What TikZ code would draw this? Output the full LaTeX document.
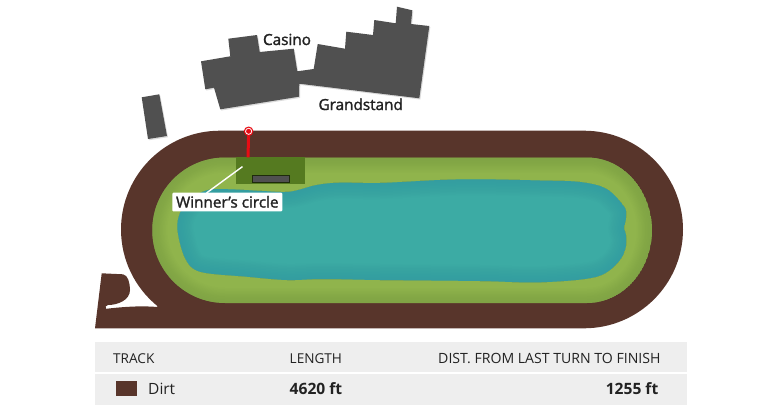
\documentclass[tikz,border=0pt]{standalone}
\usepackage{fontspec}
\setmainfont{Open Sans}
\newfontfamily\semi[FakeBold=1.6]{Open Sans}
\usetikzlibrary{calc}
\definecolor{trackc}{HTML}{58352B}
\definecolor{grassc}{HTML}{90B44C}
\definecolor{grassd}{HTML}{769A45}
\definecolor{waterc}{HTML}{3CABA4}
\definecolor{waterd}{HTML}{348FA0}
\definecolor{bldg}{HTML}{505050}
\definecolor{bandc}{HTML}{EEEEEE}
\definecolor{inkc}{HTML}{222222}
\definecolor{winc}{HTML}{557A20}
\definecolor{pinc}{HTML}{E80C14}
\tikzset{
  bldgshape/.style={fill=bldg,draw=none},
  bldgshadow/.style={fill=black!14,draw=none},
  maplabel/.style={anchor=base,font=\semi\fontsize{15.3}{15}\selectfont,text=inkc,inner sep=0pt},
  headcell/.style={anchor=base west,font=\fontsize{13.6}{14}\selectfont,text=inkc,inner sep=0pt},
  headright/.style={anchor=base east,font=\fontsize{14.1}{14}\selectfont,text=inkc,inner sep=0pt},
  valcell/.style={anchor=base west,font=\bfseries\fontsize{15.6}{15}\selectfont,text=inkc,inner sep=0pt},
  valright/.style={anchor=base east,font=\bfseries\fontsize{15.6}{15}\selectfont,text=inkc,inner sep=0pt},
}
\newcommand{\grassoutline}{(587,157.5) arc (-90:0:65 and 72.75) arc (0:90:65 and 72.75) -- (225,303) arc (90:270:72.75) -- cycle}
\newcommand{\wateroutline}{plot[smooth cycle,tension=0.55] coordinates {(177.5,230) (180,213) (190,199) (208,190) (230,189.3) (262,191) (290,191.7) (316.7,185) (340,182.7) (380,183) (440,180) (480,179.3) (540,180.5) (580,182) (606.7,189) (625,208) (625.7,220) (624.3,228) (626.7,241.7) (620,260) (596.7,276.7) (540,282.3) (480,281) (380,280) (323,279) (287,280) (247,276.7) (200,271.7) (185,258)}}
\newcommand{\casinooutline}{(201,61.3) -- (230.3,56.3) -- (228.3,38.7) -- (257,35) -- (259.7,52) -- (293.7,48.7) -- (297.3,71.3) -- (313.7,69) -- (317.7,44) -- (345,48.7) -- (346.3,31.7) -- (373,35) -- (374.3,20) -- (395.7,23.3) -- (397,6.7) -- (412.3,10.3) -- (411,24) -- (429.3,26) -- (419.3,98.3) -- (299.3,83.7) -- (299,96.7) -- (220.3,109.3) -- (214,87.7) -- (205.3,89.3) -- cycle}
\begin{document}
\begin{tikzpicture}[x=1pt,y=-1pt]
\useasboundingbox (0,0) rectangle (780,410);
\fill[white] (0,0) rectangle (780,410);
% buildings
\fill[bldgshadow,shift={(1,1.2)}] \casinooutline;
\fill[bldgshadow,shift={(1,1.2)}] (141.7,97.3) -- (159.3,94.3) -- (167,136) -- (148,139) -- cycle;
\fill[bldgshape] \casinooutline;
\fill[bldgshape] (141.7,97.3) -- (159.3,94.3) -- (167,136) -- (148,139) -- cycle;
% track with chute
\fill[trackc] (95,328.3) -- (584,328.3) arc (90:-90:99 and 98.8) -- (220,130.7) arc (-90:-231:99 and 98.8)
  -- (157,307) .. controls (140,305.5) and (122,307) .. (106,308.8)
  .. controls (104.5,307) and (106,305.5) .. (108,305)
  .. controls (118,305) and (130,300) .. (130,290)
  .. controls (130,283) and (128,275) .. (123,274.3)
  -- (101.7,273.3) -- cycle;
% grass
\begin{scope}
  \clip \grassoutline;
  \fill[grassc] \grassoutline;
  \foreach \w in {30,27,...,3} {\draw[grassd,opacity=.07,line width=\w pt] \grassoutline;}
\end{scope}
% water
\begin{scope}
  \clip \wateroutline;
  \fill[waterc] \wateroutline;
  \foreach \w in {32,29,...,2} {\draw[waterd,opacity=.045,line width=\w pt] \wateroutline;}
\end{scope}
% winner's area
\fill[winc] (236,157.4) rectangle (305.3,184.3);
\fill[bldg,draw=black!65!winc,line width=.5pt] (252.4,175.2) rectangle (289,182);
% pin
\node[circle,minimum size=6pt,inner sep=0pt,outer sep=0pt] (pinhead) at (248.6,131.3) {};
\coordinate (pinfoot) at (248,157.4);
\draw[pinc,line width=3pt] (pinfoot) -- (pinhead.south);
\fill[pinc] (pinhead) circle (4.8);
\fill[white] (pinhead) circle (3.5);
\fill[pinc] (pinhead) circle (2.5);
% labels
\node[fill=white,rounded corners=1pt,minimum width=110pt,minimum height=18.6pt,inner sep=0pt] (winbox) at (227.3,202) {};
\node[maplabel] (winner) at (227.3,207.6) {Winner’s circle};
\coordinate (winpt) at (242.5,166.6);
\draw[white,line width=1.4pt] (winpt) -- (206.5,193);
\node[maplabel] (casino) at (287,45) {Casino};
\node[maplabel] (grand) at (360.7,110) {Grandstand};
% table
\fill[bandc] (95,342) rectangle (686.5,371.8);
\fill[bandc] (95,374) rectangle (686.5,404.5);
\node[headcell] (h1) at (113,363.3) {TRACK};
\node[headcell] (h2) at (289.5,363.3) {LENGTH};
\node[headright] (h3) at (660.7,363.3) {DIST. FROM LAST TURN TO FINISH};
\fill[trackc] (115.7,381) rectangle (136.7,396);
\node[anchor=base west,font=\fontsize{15.5}{15}\selectfont,text=inkc,inner sep=0pt] (dirt) at (148,394) {Dirt};
\node[valcell] (v1) at (289.5,394) {4620 ft};
\node[valright] (v2) at (658.5,394) {1255 ft};
\end{tikzpicture}
\end{document}
